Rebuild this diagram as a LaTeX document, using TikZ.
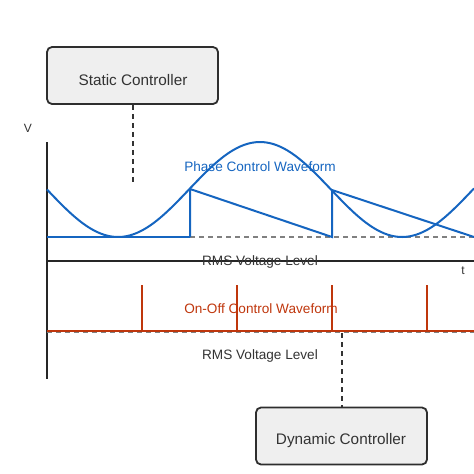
\documentclass[tikz,border=0pt]{standalone}
\usepackage{fontspec}
\setmainfont{Liberation Sans}
\definecolor{wblue}{RGB}{21,101,192}
\definecolor{wred}{RGB}{191,54,12}
\definecolor{boxfill}{RGB}{239,239,239}
\definecolor{txt}{RGB}{51,51,51}
\begin{document}
\begin{tikzpicture}[x=1pt,y=-1pt,
  ctrl/.style={draw=txt!90!black,line width=1.8pt,fill=boxfill,rounded corners=5pt,minimum width=171pt,minimum height=57pt,text depth=0pt},
  link/.style={draw=txt,line width=2pt,dash pattern=on 5pt off 4pt},
  axis/.style={draw=black!85,line width=1.7pt},
  wave/.style={draw=wblue,line width=2pt},
  rwave/.style={draw=wred,line width=1.8pt},
  lbl/.style={font=\fontsize{13.6}{16}\selectfont,text=txt,inner sep=0pt}]
\useasboundingbox (0,0) rectangle (474,474);
% controllers
\node[ctrl] (static) at (132.5,75.5) {};
\node[ctrl] (dynamic) at (341.5,436) {};
\node[lbl,font=\fontsize{15.3}{17}\selectfont] (staticText) at (133,80.5) {Static Controller};
\node[lbl,font=\fontsize{15.3}{17}\selectfont] (dynamicText) at (341,440.5) {Dynamic Controller};
\coordinate (sEnd) at (132.5,185);
\coordinate (dStart) at (341.5,333);
\draw[link] (static.south) -- (sEnd);
\draw[link] (dStart) -- (dynamic.north);
% axes
\coordinate (yTop) at (47,142);
\coordinate (yBot) at (47,379);
\coordinate (tLeft) at (47,261);
\coordinate (tRight) at (474,261);
\draw[axis] (yTop) -- (yBot);
\draw[axis] (tLeft) -- (tRight);
\node[lbl,font=\fontsize{12}{14}\selectfont] (V) at (28,128.5) {V};
\node[lbl,font=\fontsize{12}{14}\selectfont] (t) at (463,270.5) {t};
\node[lbl] (rms1) at (260,262) {RMS Voltage Level};
\node[lbl] (rms2) at (260,356) {RMS Voltage Level};
% phase control waveform
\draw[draw=gray,line width=1.7pt,dash pattern=on 5pt off 4pt] (190,237) -- (474,237);
\draw[wave] (47,237) -- (190,237);
\draw[wave] plot[domain=47:474,samples=120,smooth] (\x,{189.5+47.5*cos(1.26761*(\x-118))});
\draw[wave] (190,237) -- (190,189) -- (332,237) -- (332,190) -- (474,237);
\node[lbl,text=wblue] (phase) at (260,167) {Phase Control Waveform};
% on-off waveform
\draw[draw=gray,line width=1.5pt,dash pattern=on 5pt off 4pt] (47,332) -- (474,332);
\draw[rwave] (47,331) -- (474,331);
\foreach \px in {142,237,332,427}{
  \draw[rwave] (\px,285) -- (\px,331);
}
\node[lbl,text=wred] (onoff) at (261,309) {On-Off Control Waveform};
\end{tikzpicture}
\end{document}
